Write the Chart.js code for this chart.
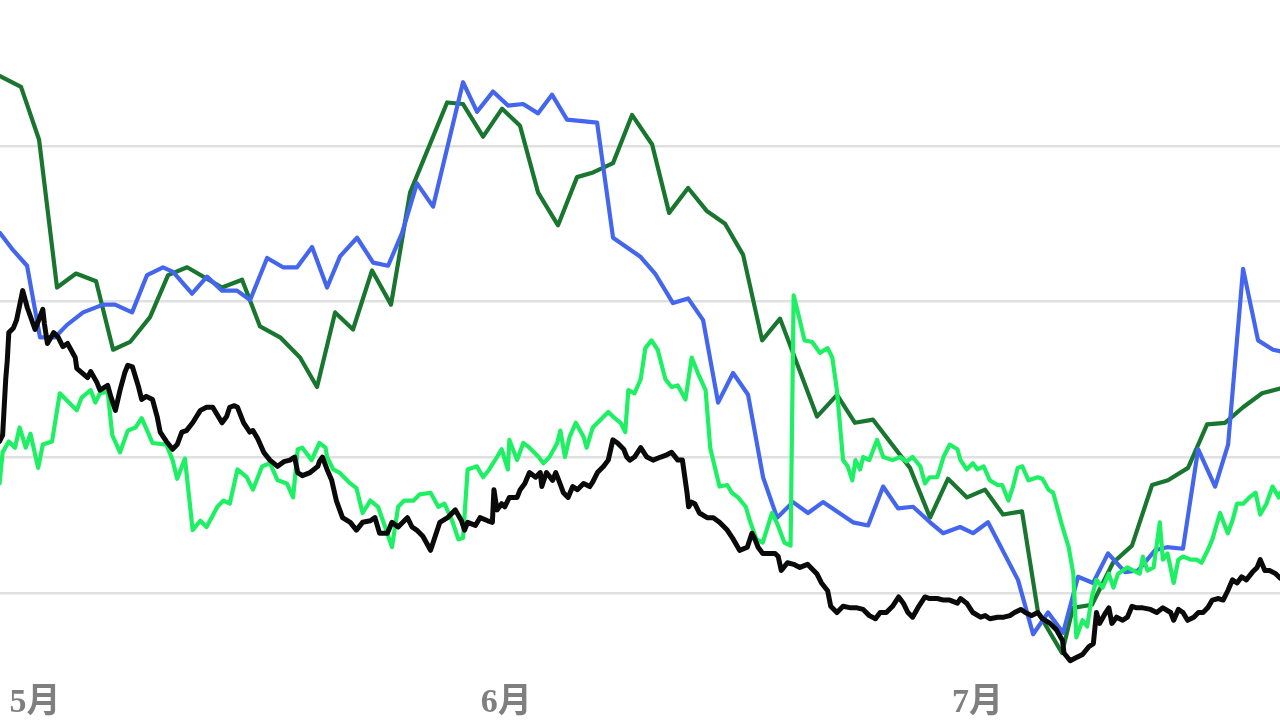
<!DOCTYPE html>
<html>
<head>
<meta charset="utf-8">
<script src="https://cdn.jsdelivr.net/npm/chart.js@4/dist/chart.umd.min.js"></script>
<style>
  html, body { margin: 0; padding: 0; background: #fff; }
  #wrap { width: 1280px; height: 720px; position: relative; }
</style>
</head>
<body>
<div id="wrap"><canvas id="chart"></canvas></div>
<script>
// x = days from May 1 (approx), y = relative value
const monthTicks = [0, 30.5, 61];
const monthLabels = ["5月", "6月", "7月"];
const gridValues = [20, 10, 0, -8.75];

const darkGreen = [
  [-2.27,24.5],[-0.91,23.8],[0.26,20.4],[1.42,10.9],[2.65,11.8],[3.95,11.3],[5.05,6.9],[6.15,7.4],
  [7.44,9.0],[8.61,11.7],[9.84,12.2],[12.1,10.9],[13.4,11.4],[14.56,8.4],[15.86,7.7],[17.15,6.4],
  [18.25,4.5],[19.42,9.3],[20.58,8.2],[21.81,12.0],[23.04,9.8],[24.27,17.0],[26.67,22.8],[27.7,22.7],
  [29.0,20.6],[30.23,22.4],[31.39,21.3],[32.56,17.0],[33.85,14.9],[35.08,18.0],[36.12,18.3],[37.41,18.9],
  [38.64,22.0],[39.94,20.1],[41.04,15.7],[42.27,17.3],[43.5,15.8],[44.66,15.0],[45.83,13.0],[47.06,7.5],
  [48.22,8.9],[50.61,2.6],[51.91,4.0],[53.07,2.2],[54.24,2.4],[56.63,-0.7],[57.93,-3.9],[59.09,-1.4],
  [60.32,-2.6],[61.49,-2.1],[62.65,-3.7],[63.88,-3.5],[64.92,-10.0],[66.47,-12.6],[67.18,-9.7],[68.41,-9.5],
  [69.77,-6.8],[71.0,-5.7],[72.3,-1.8],[73.33,-1.5],[74.63,-0.7],[75.86,2.1],[77.02,2.2],[78.19,3.2],
  [79.42,4.1],[80.58,4.4]
];

const blue = [
  [-2.27,14.4],[-1.42,13.3],[-0.52,12.3],[0.32,7.7],[1.29,7.7],[2.07,8.5],[3.11,9.3],[4.4,9.8],
  [5.18,9.8],[6.28,9.3],[7.25,11.7],[8.28,12.2],[8.93,11.9],[10.16,10.5],[11.13,11.6],[12.1,10.7],
  [13.07,10.7],[13.92,10.1],[15.02,12.8],[16.05,12.2],[16.96,12.2],[17.93,13.5],[18.9,10.9],[19.74,12.9],
  [20.84,14.1],[21.88,12.5],[22.85,12.3],[23.75,14.4],[24.72,17.6],[25.76,16.1],[27.7,24.1],[28.61,22.2],
  [29.64,23.5],[30.61,22.6],[31.59,22.7],[32.56,22.1],[33.46,23.3],[34.43,21.7],[36.38,21.5],[37.41,14.1],
  [39.16,12.9],[40.13,11.8],[41.29,9.9],[42.27,10.2],[43.24,8.8],[44.21,3.5],[45.18,5.4],[46.15,4.0],
  [47.12,-1.3],[48.03,-3.9],[49.06,-2.9],[50.03,-3.6],[51.0,-2.9],[52.94,-4.2],[53.92,-4.4],[54.89,-1.9],
  [55.86,-3.3],[56.83,-3.2],[57.93,-4.2],[58.77,-4.9],[59.87,-4.5],[60.71,-4.9],[61.68,-4.2],[63.62,-7.9],
  [64.6,-11.4],[65.57,-10.0],[66.54,-11.3],[67.51,-7.7],[68.48,-8.1],[69.45,-6.2],[70.55,-7.4],[71.39,-7.3],
  [72.49,-6.0],[73.27,-5.8],[74.3,-5.9],[75.28,0.5],[76.38,-1.9],[77.22,0.8],[78.19,12.1],[79.16,7.5],
  [80.13,6.9],[80.58,6.8]
];

const brightGreen = [
  [-2.3,-1.7],[-2.1,0.3],[-1.7,1.0],[-1.3,0.6],[-1.0,1.9],[-0.6,0.6],[-0.3,1.5],[0.2,-0.7],
  [0.5,0.8],[1.1,1.0],[1.6,4.1],[2.7,3.0],[3.0,3.8],[3.6,4.3],[3.9,3.5],[4.2,4.1],
  [4.7,4.2],[5.0,1.4],[5.5,0.3],[6.0,1.7],[6.5,1.9],[6.9,2.5],[7.3,1.6],[7.6,0.9],
  [8.5,0.8],[8.9,-0.2],[9.2,-1.4],[9.7,-0.1],[10.2,-4.7],[10.7,-4.1],[11.1,-4.5],[11.8,-3.2],
  [12.2,-2.8],[12.6,-3.0],[13.1,-0.8],[13.7,-1.3],[14.1,-2.1],[14.7,-0.6],[15.2,-0.4],[15.7,-1.5],
  [16.3,-1.7],[16.7,-2.6],[17.0,0.5],[17.3,0.6],[17.9,-0.2],[18.4,0.9],[18.8,0.6],[18.9,0.0],
  [19.3,-0.8],[19.7,-1.0],[20.4,-1.7],[20.8,-2.0],[21.2,-3.6],[21.7,-2.8],[22.2,-3.2],[22.8,-4.9],
  [23.1,-5.8],[23.5,-3.2],[23.9,-2.8],[24.5,-2.8],[24.9,-2.4],[25.6,-2.3],[26.1,-3.2],[26.5,-3.0],
  [27.0,-4.1],[27.4,-5.3],[27.7,-5.2],[28.0,-0.8],[28.6,-0.6],[29.0,-1.3],[29.4,-0.8],[29.9,0.0],
  [30.2,0.5],[30.6,-0.8],[30.7,1.1],[31.2,-0.2],[31.6,0.9],[32.0,0.6],[32.6,0.0],[32.9,-0.4],
  [33.3,0.0],[33.8,0.9],[34.0,1.7],[34.3,0.0],[34.6,1.3],[35.0,2.2],[35.5,1.3],[35.7,0.6],
  [36.1,1.9],[36.6,2.4],[37.1,2.9],[37.4,2.6],[37.9,2.2],[38.2,1.6],[38.4,4.3],[38.8,4.1],
  [39.2,5.0],[39.5,7.0],[39.9,7.5],[40.3,6.9],[40.8,5.0],[41.2,4.5],[41.6,4.6],[42.1,3.7],
  [42.5,6.4],[42.9,5.4],[43.4,4.3],[43.7,0.6],[44.3,-1.9],[44.8,-1.8],[45.1,-2.3],[45.5,-2.6],
  [46.0,-3.2],[46.3,-4.2],[46.7,-5.3],[47.1,-5.5],[47.7,-3.6],[48.0,-4.2],[48.5,-5.5],[48.9,-5.7],
  [49.1,10.4],[49.5,8.8],[49.8,7.5],[50.3,7.4],[50.8,6.7],[51.3,7.0],[51.6,6.4],[51.9,4.3],
  [52.3,-0.2],[52.6,-0.6],[52.9,-1.5],[53.1,-0.2],[53.4,-0.8],[53.6,0.0],[54.0,-0.2],[54.5,1.1],
  [54.9,0.0],[55.5,-0.2],[56.0,0.0],[56.4,-0.3],[56.8,0.0],[57.3,-0.6],[57.6,-1.7],[57.9,-1.3],
  [58.4,-1.3],[58.8,0.0],[59.2,0.8],[59.7,0.5],[59.9,-0.2],[60.3,-0.8],[60.7,-0.4],[61.0,-0.8],
  [61.4,-0.6],[61.8,-1.5],[62.3,-1.8],[62.6,-1.8],[63.0,-2.8],[63.3,-1.9],[63.6,-0.7],[63.9,-0.6],
  [64.3,-1.5],[64.6,-1.4],[64.9,-1.3],[65.2,-1.4],[65.6,-2.1],[65.9,-2.3],[66.2,-3.4],[66.5,-4.5],
  [66.9,-5.8],[67.2,-7.5],[67.4,-11.6],[67.8,-10.5],[68.1,-10.9],[68.4,-9.0],[68.7,-7.9],[69.1,-8.4],
  [69.5,-7.5],[69.8,-8.4],[70.1,-7.5],[70.7,-7.1],[71.1,-7.3],[71.5,-7.5],[71.7,-6.4],[72.0,-7.3],
  [72.4,-7.1],[72.8,-4.2],[73.0,-6.6],[73.3,-6.2],[73.7,-8.1],[74.0,-6.6],[74.3,-6.4],[74.8,-6.6],
  [75.2,-6.6],[75.5,-6.8],[75.9,-6.0],[76.2,-5.3],[76.7,-3.6],[77.2,-4.9],[77.5,-4.1],[77.8,-3.0],
  [78.2,-3.0],[78.6,-2.6],[79.0,-2.3],[79.3,-3.7],[79.7,-3.0],[80.1,-1.9],[80.5,-2.6],[80.6,-2.3]
];

const black = [
  [-2.3,1.0],[-2.1,1.4],[-1.9,5.0],[-1.8,6.2],[-1.7,8.0],[-1.4,8.3],[-1.2,8.8],[-0.8,10.7],
  [-0.5,9.6],[0.0,8.2],[0.5,9.5],[0.6,8.6],[0.8,7.3],[1.2,8.0],[1.5,7.7],[1.8,7.1],
  [2.1,7.3],[2.6,6.4],[2.7,5.7],[3.4,5.1],[3.6,5.5],[4.0,4.8],[4.2,4.3],[4.7,4.6],
  [4.9,3.9],[5.2,3.0],[5.5,4.3],[5.8,5.4],[6.0,5.9],[6.3,5.8],[6.7,4.5],[6.9,3.7],
  [7.2,3.9],[7.6,3.7],[7.9,2.6],[8.1,1.6],[8.5,1.0],[8.9,0.5],[9.2,0.8],[9.5,1.6],
  [9.8,1.7],[10.2,2.2],[10.7,3.0],[11.1,3.2],[11.5,3.2],[11.8,2.7],[12.1,2.2],[12.4,2.6],
  [12.6,3.2],[12.9,3.3],[13.1,3.2],[13.5,2.2],[13.9,1.6],[14.1,1.7],[14.4,1.2],[14.8,0.3],
  [15.2,-0.2],[15.7,-0.6],[16.1,-0.3],[16.5,-0.2],[16.8,0.0],[17.0,-1.0],[17.3,-1.2],[17.8,-1.0],
  [18.3,-0.6],[18.4,-0.3],[18.6,0.0],[18.9,-0.8],[19.2,-1.5],[19.5,-2.8],[19.9,-3.9],[20.4,-4.2],
  [20.8,-4.7],[21.2,-4.2],[21.7,-4.1],[22.0,-3.9],[22.3,-4.9],[22.8,-4.9],[23.1,-4.2],[23.5,-4.5],
  [23.9,-4.1],[24.1,-3.9],[24.4,-4.5],[24.7,-4.7],[25.1,-5.1],[25.6,-6.0],[25.9,-5.1],[26.2,-4.2],
  [26.7,-3.9],[27.2,-3.4],[27.6,-4.1],[27.8,-4.7],[28.0,-4.2],[28.5,-4.4],[28.8,-3.9],[29.3,-4.1],
  [29.6,-4.2],[29.7,-2.1],[29.9,-3.4],[30.2,-3.0],[30.4,-3.2],[30.7,-2.6],[31.2,-2.6],[31.4,-2.1],
  [31.7,-1.7],[32.0,-1.0],[32.4,-1.3],[32.7,-1.0],[32.8,-1.9],[33.1,-1.0],[33.5,-1.5],[33.7,-1.0],
  [33.9,-1.5],[34.2,-2.3],[34.5,-2.6],[34.8,-1.9],[35.1,-2.1],[35.5,-1.7],[35.9,-1.9],[36.1,-1.6],
  [36.4,-1.0],[36.8,-0.6],[37.1,-0.2],[37.4,1.1],[37.7,0.9],[38.1,0.5],[38.3,0.0],[38.5,-0.2],
  [38.8,0.0],[39.2,0.6],[39.6,0.0],[40.0,-0.2],[40.5,0.0],[40.8,0.1],[41.2,0.3],[41.6,-0.2],
  [41.9,-0.2],[42.2,-2.3],[42.3,-3.2],[42.5,-2.9],[42.7,-3.0],[43.0,-3.6],[43.5,-3.9],[43.9,-3.9],
  [44.3,-4.2],[44.8,-4.7],[45.2,-5.3],[45.6,-6.0],[46.1,-5.8],[46.4,-4.9],[46.6,-5.3],[46.8,-5.8],
  [47.1,-6.2],[47.4,-6.2],[47.9,-6.2],[48.1,-6.4],[48.3,-7.3],[48.7,-6.8],[49.1,-6.9],[49.5,-7.1],
  [50.0,-6.9],[50.2,-7.1],[50.6,-7.5],[50.9,-8.1],[51.3,-8.6],[51.5,-9.6],[51.9,-10.0],[52.3,-9.6],
  [52.8,-9.7],[53.2,-9.7],[53.6,-9.8],[54.0,-10.2],[54.4,-10.4],[54.7,-10.0],[55.1,-10.0],[55.5,-9.6],
  [55.9,-9.0],[56.2,-9.4],[56.5,-10.0],[56.8,-10.3],[57.2,-9.6],[57.6,-9.0],[57.9,-9.1],[58.4,-9.1],
  [58.8,-9.2],[59.2,-9.2],[59.7,-9.4],[59.9,-9.1],[60.3,-9.4],[60.7,-10.0],[61.2,-10.3],[61.5,-10.2],
  [61.8,-10.4],[62.3,-10.3],[62.7,-10.3],[63.1,-10.2],[63.4,-10.0],[63.8,-9.8],[64.1,-10.0],[64.5,-10.2],
  [64.9,-10.0],[65.2,-10.4],[65.7,-10.7],[66.1,-11.1],[66.5,-11.8],[66.6,-12.6],[67.0,-13.1],[67.4,-12.9],
  [67.8,-12.7],[68.2,-12.2],[68.5,-12.0],[68.7,-10.0],[68.9,-10.7],[69.3,-10.0],[69.5,-9.7],[69.7,-10.7],
  [70.0,-10.3],[70.4,-10.5],[70.7,-10.3],[71.0,-9.6],[71.3,-9.7],[71.7,-9.7],[72.2,-9.8],[72.6,-10.0],
  [73.0,-9.7],[73.5,-10.0],[73.7,-10.5],[74.0,-9.8],[74.3,-10.0],[74.6,-10.5],[75.0,-10.3],[75.3,-10.0],
  [75.6,-10.0],[75.9,-9.7],[76.2,-9.2],[76.6,-9.1],[76.9,-9.2],[77.2,-8.6],[77.5,-7.9],[77.8,-8.1],
  [78.1,-7.7],[78.4,-7.9],[78.8,-7.4],[79.1,-7.1],[79.3,-6.6],[79.6,-7.3],[79.9,-7.3],[80.3,-7.5],
  [80.6,-7.8]
];

const xMin = -2.27, xMax = 80.58;
const yMin = -14.34, yMax = 29.39;

function toPoints(arr) {
  return arr.map(p => ({ x: p[0], y: p[1] }));
}

function line(data, color, width) {
  return {
    data: toPoints(data),
    borderColor: color,
    backgroundColor: color,
    borderWidth: width,
    pointRadius: 0,
    tension: 0,
    fill: false,
    borderJoinStyle: "round",
    borderCapStyle: "round"
  };
}

new Chart(document.getElementById("chart"), {
  type: "line",
  data: {
    datasets: [
      line(black, "#0a0a0a", 5),
      line(brightGreen, "#1ef064", 4.2),
      line(blue, "#4466ee", 4.2),
      line(darkGreen, "#18762f", 4.2)
    ]
  },
  options: {
    responsive: true,
    maintainAspectRatio: false,
    animation: false,
    layout: { padding: 0 },
    plugins: {
      legend: { display: false },
      tooltip: { enabled: false }
    },
    scales: {
      x: {
        type: "linear",
        min: xMin,
        max: xMax,
        grid: { display: false },
        border: { display: false },
        afterBuildTicks: (scale) => {
          scale.ticks = monthTicks.map(v => ({ value: v }));
        },
        afterFit: (scale) => { scale.height = 40; },
        ticks: {
          autoSkip: false,
          maxRotation: 0,
          padding: -5,
          color: "#7f7f7f",
          font: { family: "'Liberation Serif', 'Noto Sans CJK JP', serif", size: 34, weight: "bold" },
          callback: (value, index) => monthLabels[index]
        }
      },
      y: {
        type: "linear",
        min: yMin,
        max: yMax,
        border: { display: false },
        grid: { color: "#e0e0e0", lineWidth: 2.5, drawTicks: false },
        afterBuildTicks: (scale) => {
          scale.ticks = gridValues.map(v => ({ value: v }));
        },
        ticks: { display: false }
      }
    }
  }
});
</script>
</body>
</html>
